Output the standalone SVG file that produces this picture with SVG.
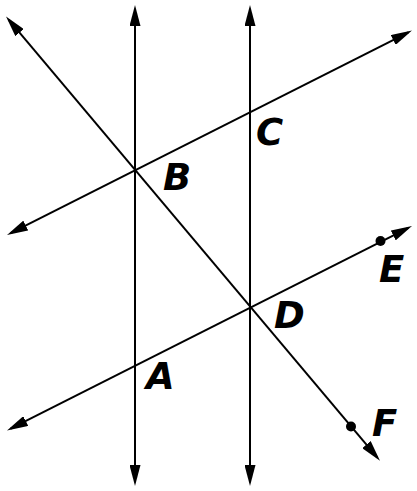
<svg xmlns="http://www.w3.org/2000/svg" width="417" height="491" viewBox="0 0 417 491">
<style>
.ln{stroke:#000;stroke-width:2;fill:none;marker-start:url(#ar);marker-end:url(#ar)}
.lbl{font-family:"DejaVu Sans",sans-serif;font-weight:bold;font-style:italic;font-size:37px;fill:#000}
.dot{fill:#000}
</style>
<defs>
<marker id="ar" viewBox="0 0 21 11" refX="17" refY="5.5" markerWidth="21" markerHeight="11" markerUnits="userSpaceOnUse" orient="auto-start-reverse">
<path d="M0,0 L21,5.5 L0,11 Z" fill="#000"/>
</marker>
</defs>
<rect width="417" height="491" fill="#fff"/>
<g id="connectors">
<line class="ln" x1="135" y1="9" x2="135" y2="482"/>
<line class="ln" x1="250" y1="9" x2="250" y2="482"/>
<line class="ln" x1="8.6" y1="19.6" x2="377.4" y2="457.6"/>
<line class="ln" x1="10.6" y1="233.2" x2="408.4" y2="32.3"/>
<line class="ln" x1="10.6" y1="428.7" x2="408.4" y2="227.8"/>
</g>
<g id="E"><circle class="dot" cx="380.5" cy="241" r="5"/><text class="lbl" x="379" y="282">E</text></g>
<g id="F"><circle class="dot" cx="351" cy="426.5" r="5"/><text class="lbl" x="372" y="436">F</text></g>
<g id="A"><text class="lbl" x="146" y="389">A</text></g>
<g id="B"><text class="lbl" x="163" y="190">B</text></g>
<g id="C"><text class="lbl" x="256" y="145">C</text></g>
<g id="D"><text class="lbl" x="274" y="328">D</text></g>
</svg>
